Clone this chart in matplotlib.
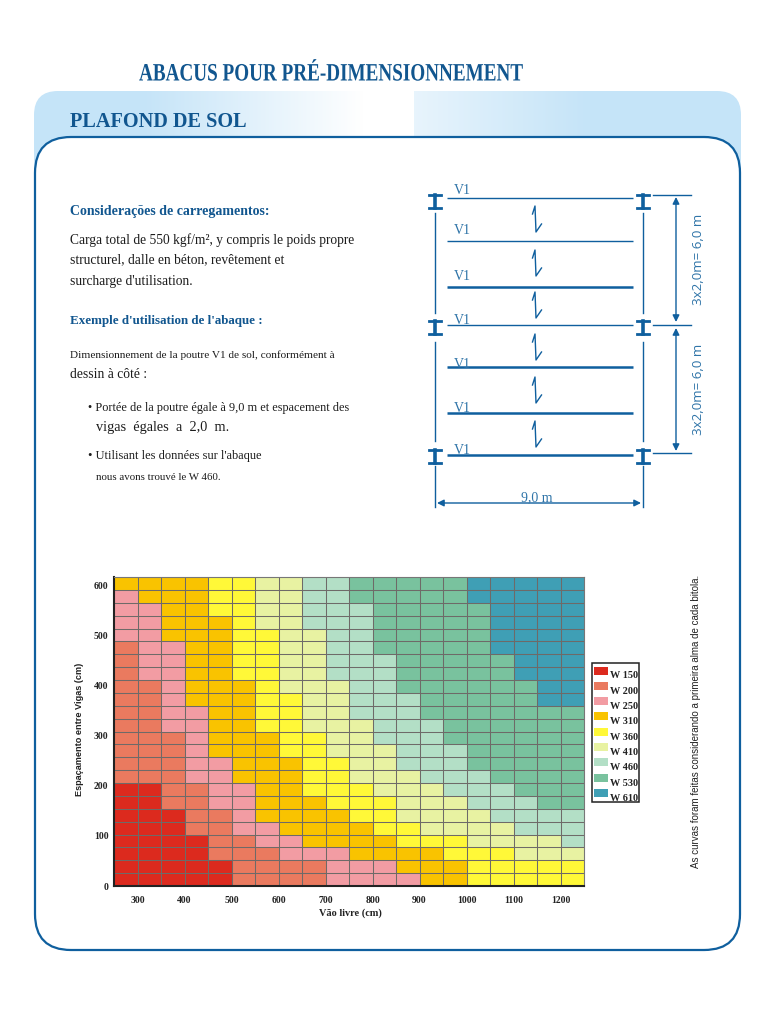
import numpy as np
import matplotlib
matplotlib.use("Agg")
import matplotlib.pyplot as plt
import matplotlib.patheffects as pe
from matplotlib.colors import ListedColormap, BoundaryNorm
from matplotlib.patches import FancyBboxPatch, Rectangle
from matplotlib.transforms import Affine2D

# chart data
weights = ["W 150", "W 200", "W 250", "W 310", "W 360", "W 410", "W 460", "W 530", "W 610"]
colors = ["#dc2a1e", "#ea7a5f", "#f29ca3", "#f9c300", "#fff838",
          "#e8f2a2", "#b3dfc6", "#79c29e", "#3f9fb5"]
span_ticks = [300, 400, 500, 600, 700, 800, 900, 1000, 1100, 1200]
spacing_ticks = [0, 100, 200, 300, 400, 500, 600]
span_edges = np.arange(250, 1251, 50)
spacing_edges = np.arange(25) * 25.7

# profile index per cell, top row first
grid = [
    [3, 3, 3, 3, 4, 4, 5, 5, 6, 6, 7, 7, 7, 7, 7, 8, 8, 8, 8, 8],
    [2, 3, 3, 3, 4, 4, 5, 5, 6, 6, 7, 7, 7, 7, 7, 8, 8, 8, 8, 8],
    [2, 2, 3, 3, 4, 4, 5, 5, 6, 6, 6, 7, 7, 7, 7, 7, 8, 8, 8, 8],
    [2, 2, 3, 3, 3, 4, 5, 5, 6, 6, 6, 7, 7, 7, 7, 7, 8, 8, 8, 8],
    [2, 2, 3, 3, 3, 4, 4, 5, 5, 6, 6, 7, 7, 7, 7, 7, 8, 8, 8, 8],
    [1, 2, 2, 3, 3, 4, 4, 5, 5, 6, 6, 7, 7, 7, 7, 7, 8, 8, 8, 8],
    [1, 2, 2, 3, 3, 4, 4, 5, 5, 6, 6, 6, 7, 7, 7, 7, 7, 8, 8, 8],
    [1, 2, 2, 3, 3, 4, 4, 5, 5, 6, 6, 6, 7, 7, 7, 7, 7, 8, 8, 8],
    [1, 1, 2, 3, 3, 3, 4, 5, 5, 5, 6, 6, 7, 7, 7, 7, 7, 7, 8, 8],
    [1, 1, 2, 3, 3, 3, 4, 4, 5, 5, 6, 6, 6, 7, 7, 7, 7, 7, 8, 8],
    [1, 1, 2, 2, 3, 3, 4, 4, 5, 5, 6, 6, 6, 7, 7, 7, 7, 7, 7, 7],
    [1, 1, 2, 2, 3, 3, 4, 4, 5, 5, 5, 6, 6, 6, 7, 7, 7, 7, 7, 7],
    [1, 1, 1, 2, 3, 3, 3, 4, 4, 5, 5, 6, 6, 6, 7, 7, 7, 7, 7, 7],
    [1, 1, 1, 2, 3, 3, 3, 4, 4, 5, 5, 5, 6, 6, 6, 7, 7, 7, 7, 7],
    [1, 1, 1, 2, 2, 3, 3, 3, 4, 4, 5, 5, 6, 6, 6, 7, 7, 7, 7, 7],
    [1, 1, 1, 2, 2, 3, 3, 3, 4, 4, 5, 5, 5, 6, 6, 6, 7, 7, 7, 7],
    [0, 0, 1, 1, 2, 2, 3, 3, 4, 4, 4, 5, 5, 5, 6, 6, 6, 7, 7, 7],
    [0, 0, 1, 1, 2, 2, 3, 3, 3, 4, 4, 4, 5, 5, 5, 6, 6, 6, 7, 7],
    [0, 0, 0, 1, 1, 2, 3, 3, 3, 3, 4, 4, 5, 5, 5, 5, 6, 6, 6, 6],
    [0, 0, 0, 1, 1, 2, 2, 3, 3, 3, 3, 4, 4, 5, 5, 5, 5, 6, 6, 6],
    [0, 0, 0, 0, 1, 1, 2, 2, 3, 3, 3, 3, 4, 4, 4, 5, 5, 5, 5, 6],
    [0, 0, 0, 0, 1, 1, 1, 2, 2, 2, 3, 3, 3, 3, 4, 4, 4, 5, 5, 5],
    [0, 0, 0, 0, 0, 1, 1, 1, 1, 2, 2, 2, 3, 3, 3, 4, 4, 4, 4, 4],
    [0, 0, 0, 0, 0, 1, 1, 1, 1, 2, 2, 2, 2, 3, 3, 4, 4, 4, 4, 4],
]

# diagram layout, page pixels
beam_y = [198, 241, 287, 325, 367, 413, 455]
beam_lw = [1.0, 1.0, 1.8, 1.0, 1.8, 1.8, 1.8]
v1_y = [191, 231, 276, 321, 364, 408, 451]
load_y = [206, 250, 292, 334, 377, 421]
column_x = [435, 643]
column_spans = [(213, 313), (342, 441), (466, 507)]
node_y = [201, 327, 456]
dim_y = [195, 325, 453]

BLUE = "#0f5f9e"
TEXT_BLUE = "#11568f"
SERIF = "Liberation Serif"


class SqueezeX(pe.AbstractPathEffect):
    # narrow a text horizontally around x0 (display px)
    def __init__(self, x0, factor):
        super().__init__()
        self.x0 = x0
        self.factor = factor

    def draw_path(self, renderer, gc, tpath, affine, rgbFace=None):
        squeeze = Affine2D().translate(-self.x0, 0).scale(self.factor, 1).translate(self.x0, 0)
        renderer.draw_path(gc, tpath, affine + squeeze, rgbFace)


fig = plt.figure(figsize=(7.68, 10.24), dpi=100)
page = fig.add_axes([0, 0, 1, 1])
page.set_xlim(0, 768)
page.set_ylim(1024, 0)
page.axis("off")

# header band with the gradient and white gap
band = FancyBboxPatch((34, 91), 707, 120, boxstyle="round,pad=0,rounding_size=24",
                      facecolor="none", edgecolor="none")
page.add_patch(band)
stops_x = [34, 143, 363, 413, 413.5, 587, 741]
stops_v = [0.0, 0.0, 1.0, 1.0, 0.6, 0.0, 0.0]
ramp = np.interp(np.arange(34, 741), stops_x, stops_v)
base = np.array([0xc5, 0xe4, 0xf8]) / 255
rgb = base + (1 - base) * ramp[:, None]
img = page.imshow(rgb[None, :, :], extent=(34, 741, 211, 91), aspect="auto", zorder=1)
img.set_clip_path(band)
page.set_xlim(0, 768)
page.set_ylim(1024, 0)

panel = FancyBboxPatch((35, 137), 705, 813, boxstyle="round,pad=0,rounding_size=36",
                       facecolor="white", edgecolor=BLUE, linewidth=1.6, zorder=2)
page.add_patch(panel)


def say(x, y, s, size, color="#1c1c1c", weight="normal", ha="left", **kw):
    kw.setdefault("family", SERIF)
    return page.text(x, y, s, fontsize=size, color=color, fontweight=weight, ha=ha,
                     va="center", zorder=5, **kw)


title = say(139, 74, "ABACUS POUR PRÉ-DIMENSIONNEMENT", 18, TEXT_BLUE, "bold")
title.set_path_effects([SqueezeX(139, 0.766)])
say(70, 122, "PLAFOND DE SOL", 14.6, TEXT_BLUE, "bold")

say(70, 212, "Considerações de carregamentos:", 10, TEXT_BLUE, "bold")
say(70, 240, "Carga total de 550 kgf/m², y compris le poids propre", 9.75)
say(70, 260, "structurel, dalle en béton, revêtement et", 9.75)
say(70, 281, "surcharge d'utilisation.", 9.75)
say(70, 321, "Exemple d'utilisation de l'abaque :", 9.4, TEXT_BLUE, "bold")
say(70, 355, "Dimensionnement de la poutre V1 de sol, conformément à", 8.15)
say(70, 375, "dessin à côté :", 9.8)
say(88, 408, "• Portée de la poutre égale à 9,0 m et espacement des", 8.87)
say(96, 428, "vigas  égales  a  2,0  m.", 10.3)
say(88, 456, "• Utilisant les données sur l'abaque", 8.9)
say(96, 478, "nous avons trouvé le W 460.", 7.8)

# beam diagram
for y, lw in zip(beam_y, beam_lw):
    page.plot([447, 633], [y, y], color=BLUE, lw=lw, zorder=4, solid_capstyle="butt")
for y in v1_y:
    say(454, y, "V1", 10, "#2f74a8")
for x in column_x:
    for y0, y1 in column_spans:
        page.plot([x, x], [y0, y1], color=BLUE, lw=1.0, zorder=4)
    for y in node_y:
        page.plot([x - 6, x + 6], [y - 6.5, y - 6.5], color=BLUE, lw=2.0, zorder=4)
        page.plot([x - 6, x + 6], [y + 6.5, y + 6.5], color=BLUE, lw=2.0, zorder=4)
        page.plot([x, x], [y - 6.5, y + 6.5], color=BLUE, lw=2.6, zorder=4)
for y in load_y:
    page.plot([532.5, 535, 536, 541.5], [y + 8, y, y + 26, y + 18], color=BLUE, lw=1.0, zorder=4)
for y in dim_y:
    page.plot([653, 691], [y, y], color=BLUE, lw=1.0, zorder=4)

arrow = dict(arrowstyle="<|-|>", color=BLUE, lw=1.0, mutation_scale=10, shrinkA=0, shrinkB=0)
page.annotate("", xy=(676, 197), xytext=(676, 322), arrowprops=arrow, zorder=4)
page.annotate("", xy=(676, 328), xytext=(676, 451), arrowprops=arrow, zorder=4)
page.annotate("", xy=(437, 503), xytext=(641, 503), arrowprops=arrow, zorder=4)
say(698, 259, "3x2,0m= 6,0 m", 9.6, "#2f74a8", ha="center", rotation=90, family="Open Sans")
say(698, 389, "3x2,0m= 6,0 m", 9.6, "#2f74a8", ha="center", rotation=90, family="Open Sans")
say(537, 498, "9,0 m", 10, "#2f74a8", ha="center")

say(696, 721.5, "As curvas foram feitas considerando a primeira alma de cada bitola.", 7.0,
    "#222222", ha="center", rotation=90, family="Liberation Sans")

# abacus
ax = fig.add_axes([114 / 768, (1024 - 886) / 1024, 470 / 768, 309 / 1024])
cmap = ListedColormap(colors)
norm = BoundaryNorm(np.arange(len(weights) + 1) - 0.5, cmap.N)
values = np.array(grid)[::-1]
ax.pcolormesh(span_edges, spacing_edges, values, cmap=cmap, norm=norm)
# cell borders drawn apart so they stay one pixel wide
ax.vlines(span_edges[1:-1], spacing_edges[0], spacing_edges[-1], color="#6e6a68", lw=0.75)
ax.hlines(spacing_edges[1:-1], span_edges[0], span_edges[-1], color="#6e6a68", lw=0.75)
ax.set_xlim(span_edges[0], span_edges[-1])
ax.set_ylim(spacing_edges[0], spacing_edges[-1])
ax.set_xticks(span_ticks)
ax.set_yticks(spacing_ticks)
ax.tick_params(length=0, labelsize=7)
ax.tick_params(axis="x", pad=7)
ax.tick_params(axis="y", pad=4)
for lab in ax.get_xticklabels() + ax.get_yticklabels():
    lab.set_family(SERIF)
    lab.set_fontweight("bold")
    lab.set_color("#222222")
for side in ["top", "right"]:
    ax.spines[side].set_color("#777777")
    ax.spines[side].set_linewidth(0.8)
for side in ["left", "bottom"]:
    ax.spines[side].set_color("#222222")
    ax.spines[side].set_linewidth(1.5)
ax.set_zorder(3)
ax.patch.set_alpha(0)

say(350, 913, "Vão livre (cm)", 7.4, "#222222", "bold", ha="center")
say(79, 729, "Espaçamento entre Vigas (cm)", 6.6, "#222222", "bold", ha="center",
    rotation=90, family="Liberation Sans")

# legend box
box = Rectangle((592, 663), 47, 139, facecolor="white", edgecolor="#222222", lw=1.1, zorder=4)
page.add_patch(box)
for i, (name, col) in enumerate(zip(weights, colors)):
    y = 670.5 + 15.3 * i
    page.add_patch(Rectangle((594, y - 4), 14, 8, facecolor=col, edgecolor="none", zorder=5))
    t = say(610, 676 + 15.3 * i, name, 7.4, "#222222", "bold")
    t.set_clip_path(box)

fig.savefig("out.png", dpi=100)
